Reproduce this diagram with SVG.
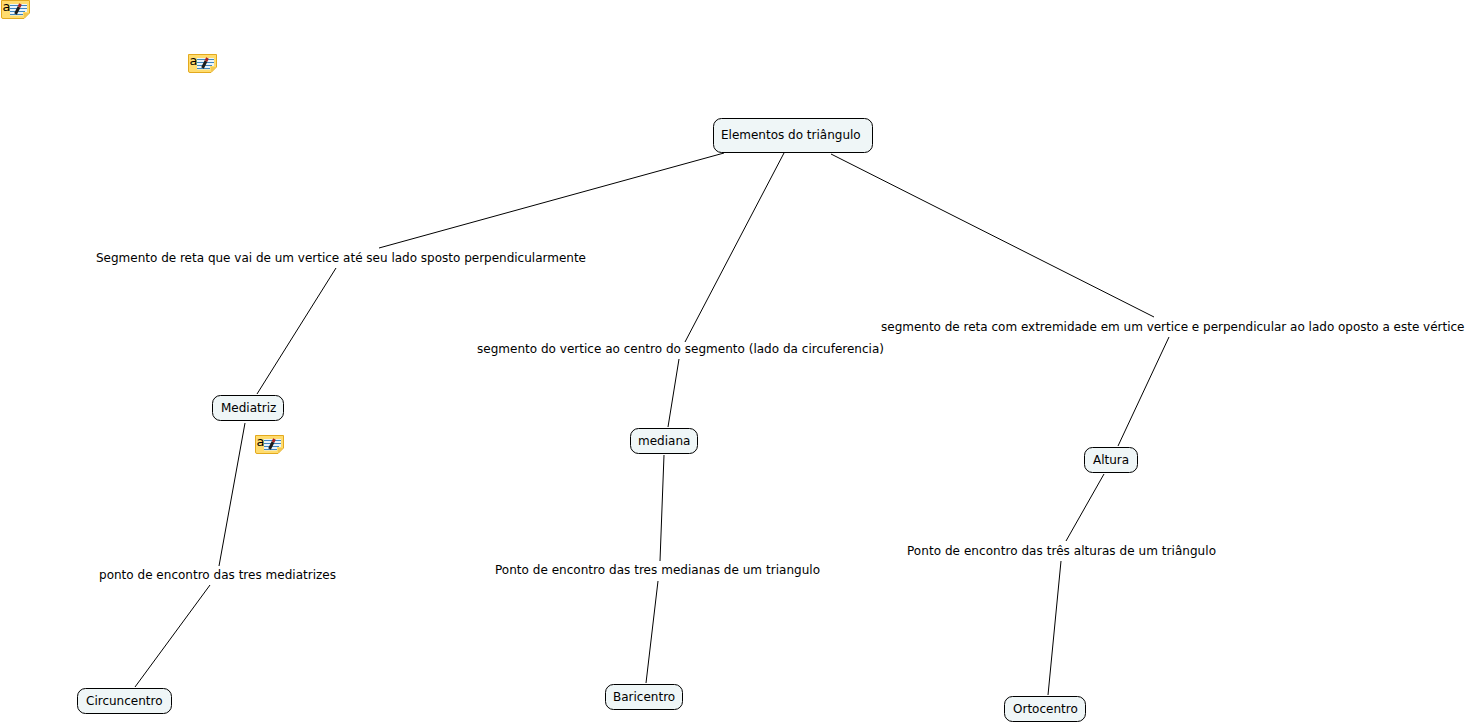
<svg xmlns="http://www.w3.org/2000/svg" width="1468" height="724" viewBox="0 0 1468 724">
<style>
text{font-family:"DejaVu Sans",Verdana,sans-serif;font-size:12px;fill:#000}
.n{fill:#eff6f7;stroke:#000;stroke-width:1}
.c{stroke:#000;stroke-width:1;fill:none}
.nb{fill:#ffdc6e;stroke:#e3a91e;stroke-width:1}
.ln{stroke:#3f86c0;stroke-width:1}
.pen{stroke:#1c1c1c;stroke-width:3}
.tip{stroke:#a82020;stroke-width:3}
</style>
<defs>
<g id="note">
<path class="nb" d="M1.500 .5H29.500V13L24 18.500H3Q1.500 18.500 1.500 17Z"/>
<path d="M29 13L24 18V13Z" fill="#f3c850"/>
<path d="M10 4H27V12H23V15.500H10Z" fill="#eaf3fa"/>
<path class="ln" d="M10 5.500H27M10 8.500H27M10 11.500H25M10 14.500H23"/>
<path class="pen" d="M15.500 14L19 7"/>
<path class="tip" d="M19 7L20.500 4"/>
<text x="2.500" y="11" style="font-size:13px">a</text>
</g>
</defs>
<g id="connectors">
<path class="c" d="M724 153L379 248M336 268L257 394"/>
<path class="c" d="M784 153L685 342M679 359L668 427"/>
<path class="c" d="M831 154L1154 317M1169 337L1118 446"/>
<path class="c" d="M245 423L219 566M210 585L135 687"/>
<path class="c" d="M664 455L660 561M658 581L646 683"/>
<path class="c" d="M1104 474L1066 541M1061 561L1048 695"/>
</g>
<g id="node-elementos"><rect class="n" x="713.500" y="118.500" width="159" height="34" rx="8"/><text x="721" y="139">Elementos do triângulo</text></g>
<g id="node-mediatriz"><rect class="n" x="212.500" y="395.500" width="71" height="25" rx="8"/><text x="221" y="412">Mediatriz</text></g>
<g id="node-mediana"><rect class="n" x="630.500" y="428.500" width="67" height="25" rx="8"/><text x="638" y="445">mediana</text></g>
<g id="node-altura"><rect class="n" x="1084.500" y="447.500" width="53" height="25" rx="8"/><text x="1093" y="464">Altura</text></g>
<g id="node-circuncentro"><rect class="n" x="77.500" y="688.500" width="94" height="25" rx="8"/><text x="86" y="705">Circuncentro</text></g>
<g id="node-baricentro"><rect class="n" x="605.500" y="684.500" width="77" height="25" rx="8"/><text x="613" y="701">Baricentro</text></g>
<g id="node-ortocentro"><rect class="n" x="1004.500" y="696.500" width="81" height="25" rx="8"/><text x="1013" y="713">Ortocentro</text></g>
<g id="label-1"><text x="96" y="262" textLength="490">Segmento de reta que vai de um vertice até seu lado sposto perpendicularmente</text></g>
<g id="label-2"><text x="477" y="353" textLength="407">segmento do vertice ao centro do segmento (lado da circuferencia)</text></g>
<g id="label-3"><text x="881" y="331" textLength="583.500">segmento de reta com extremidade em um vertice e perpendicular ao lado oposto a este vértice</text></g>
<g id="label-4"><text x="99" y="579" textLength="237">ponto de encontro das tres mediatrizes</text></g>
<g id="label-5"><text x="495" y="574" textLength="325">Ponto de encontro das tres medianas de um triangulo</text></g>
<g id="label-6"><text x="907" y="555" textLength="309">Ponto de encontro das três alturas de um triângulo</text></g>
<g id="note-1"><use href="#note" x="0" y="0"/></g>
<g id="note-2"><use href="#note" x="187" y="54"/></g>
<g id="note-3"><use href="#note" x="254" y="435"/></g>
</svg>
